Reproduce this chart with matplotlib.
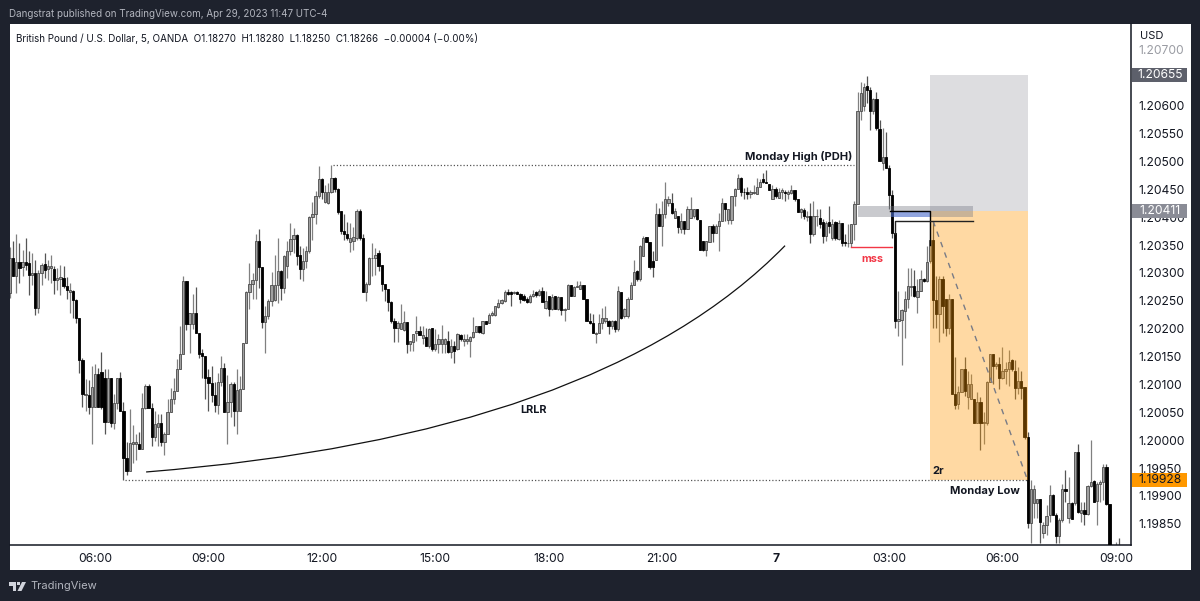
# GBPUSD 5m chart, TradingView look

import numpy as np
import matplotlib
matplotlib.use('Agg')
import matplotlib.pyplot as plt
from matplotlib.patches import Rectangle, PathPatch, Polygon
from matplotlib.path import Path

plt.rcParams['font.family'] = ['Inter', 'DejaVu Sans']

# prices below are in 0.00001 above 1.19000
opens = [
    1264,1327,1294,1319,1311,1319,1318,1297,1300,1238, 1300,1316,1307,1309,1308,1287,1289,1291,1277,1266,
    1267,1251,1220,1144,1081,1081,1059,1059,1118,1123, 1112,1032,1112,1031,1066,1111,1053,968,944,993,
    993,993,984,1058,1098,1058,1005,1024,1031,997, 1011,1051,1074,1089,1127,1154,1285,1208,1208,1229,
    1193,1156,1151,1114,1102,1081,1064,1104,1130,1051, 1069,1101,1053,1053,1092,1174,1266,1281,1288,1358,
    1311,1212,1223,1250,1251,1279,1303,1273,1312,1339, 1361,1368,1333,1308,1321,1339,1400,1405,1438,1469,
    1427,1426,1446,1470,1451,1411,1375,1369,1355,1357, 1363,1411,1363,1265,1281,1326,1326,1335,1314,1280,
    1272,1248,1214,1202,1199,1198,1212,1172,1176,1192, 1196,1184,1186,1169,1201,1163,1172,1172,1172,1178,
    1159,1169,1163,1188,1178,1178,1178,1186,1194,1205, 1193,1214,1211,1224,1225,1239,1246,1250,1266,1266,
    1264,1266,1263,1258,1253,1248,1259,1265,1261,1268, 1238,1258,1235,1258,1235,1256,1234,1235,1278,1259,
    1274,1272,1278,1253,1213,1211,1190,1193,1211,1214, 1214,1205,1214,1200,1266,1223,1223,1254,1278,1303,
    1290,1331,1365,1355,1322,1324,1405,1385,1405,1426, 1426,1398,1402,1378,1393,1378,1399,1402,1414,1395,
    1357,1342,1355,1384,1371,1385,1393,1426,1395,1395, 1438,1451,1470,1446,1446,1441,1443,1442,1455,1468,
    1464,1460,1433,1451,1435,1445,1445,1442,1444,1448, 1432,1409,1413,1401,1403,1369,1402,1398,1391,1367,
    1391,1363,1391,1361,1390,1356,1353,1354,1387,1423, 1590,1600,1635,1628,1590,1612,1558,1498,1508,1488,
    1439,1372,1214,1216,1232,1253,1274,1277,1257,1268, 1290,1286,1321,1359,1252,1226,1290,1253,1202,1253,
    1083,1065,1086,1128,1077,1074,1074,1031,1068,1030, 1030,1105,1154,1133,1137,1111,1125,1128,1143,1125,
    1093,1107,1095,1005,852,887,887,894,833,848, 866,901,866,829,856,913,860,887,887,978,
    869,875,867,918,926,891,922,925,952,885, 800,790,800,
]
highs = [
    1347,1357,1370,1354,1342,1363,1340,1336,1324,1306, 1318,1335,1324,1333,1312,1309,1315,1312,1293,1282,
    1270,1253,1220,1148,1110,1108,1133,1136,1130,1158, 1127,1127,1112,1083,1112,1123,1068,996,1056,1027,
    1011,1015,1084,1101,1101,1066,1053,1047,1047,1015, 1074,1093,1111,1145,1205,1294,1285,1228,1262,1275,
    1193,1163,1151,1127,1133,1104,1120,1151,1139,1117, 1105,1104,1127,1115,1175,1267,1317,1300,1369,1378,
    1311,1240,1253,1301,1333,1363,1306,1333,1357,1390, 1381,1369,1348,1345,1348,1402,1427,1447,1491,1470,
    1458,1461,1494,1472,1452,1411,1405,1391,1389,1383, 1415,1414,1370,1283,1329,1354,1345,1342,1314,1280,
    1272,1250,1220,1214,1244,1231,1212,1178,1190,1223, 1204,1205,1202,1202,1201,1199,1190,1207,1184,1196,
    1181,1178,1193,1190,1190,1190,1187,1221,1205,1205, 1214,1214,1229,1232,1240,1253,1254,1269,1271,1268,
    1268,1268,1264,1262,1256,1262,1269,1268,1271,1274, 1268,1258,1262,1258,1259,1256,1238,1280,1278,1277,
    1286,1286,1278,1253,1229,1226,1194,1226,1238,1240, 1216,1216,1216,1277,1266,1238,1256,1283,1324,1306,
    1351,1366,1365,1355,1339,1426,1417,1429,1463,1438, 1444,1417,1402,1408,1393,1421,1436,1415,1414,1395,
    1357,1357,1385,1387,1387,1408,1435,1426,1414,1438, 1452,1478,1473,1452,1454,1449,1457,1470,1469,1479,
    1485,1460,1458,1455,1452,1452,1448,1448,1457,1448, 1432,1417,1417,1411,1426,1429,1415,1414,1396,1393,
    1420,1396,1393,1395,1390,1369,1387,1387,1429,1625, 1643,1640,1653,1634,1613,1625,1575,1560,1552,1494,
    1449,1372,1268,1235,1268,1309,1309,1306,1290,1306, 1291,1348,1393,1393,1294,1294,1294,1253,1262,1253,
    1149,1098,1128,1149,1125,1119,1074,1086,1077,1050, 1107,1155,1154,1140,1149,1167,1140,1161,1146,1143,
    1131,1125,1095,1015,928,919,895,894,854,884, 919,903,869,860,922,946,934,889,979,994,
    889,889,919,1000,928,925,928,958,958,885, 800,817,825,
]
lows = [
    1255,1294,1264,1282,1294,1306,1261,1279,1225,1228, 1279,1291,1288,1282,1263,1270,1260,1273,1253,1229,
    1220,1211,1121,1059,1053,1047,993,1059,1059,1056, 1011,1032,1023,1020,1056,1053,928,937,944,959,
    964,984,984,1056,1058,990,999,990,990,974, 1011,1050,1065,1089,1127,1154,1198,1157,1199,1193,
    1148,1111,1074,1053,1068,1050,1047,1098,1050,993, 1041,1026,1011,1053,1092,1174,1235,1253,1253,1273,
    1202,1157,1217,1241,1250,1247,1251,1264,1291,1333, 1336,1315,1289,1286,1309,1336,1360,1387,1435,1432,
    1425,1423,1443,1446,1405,1369,1360,1360,1337,1342, 1359,1359,1265,1250,1279,1295,1296,1303,1268,1250,
    1232,1211,1176,1176,1199,1196,1156,1160,1160,1178, 1189,1172,1169,1166,1160,1160,1157,1157,1157,1157,
    1148,1138,1162,1178,1169,1172,1150,1184,1194,1193, 1191,1208,1210,1222,1223,1238,1244,1248,1260,1241,
    1262,1262,1247,1250,1247,1247,1256,1256,1259,1248, 1235,1223,1234,1235,1234,1224,1214,1235,1259,1258,
    1274,1272,1253,1214,1208,1192,1175,1192,1199,1211, 1190,1200,1194,1196,1217,1220,1220,1253,1278,1286,
    1286,1330,1355,1308,1293,1324,1384,1348,1399,1420, 1405,1399,1372,1372,1369,1378,1399,1399,1395,1342,
    1339,1330,1355,1355,1371,1339,1393,1393,1387,1387, 1420,1451,1438,1432,1432,1435,1441,1442,1455,1461,
    1461,1448,1432,1435,1435,1433,1429,1432,1441,1429, 1409,1399,1396,1393,1353,1367,1384,1381,1354,1357,
    1372,1360,1360,1359,1348,1348,1347,1347,1360,1423, 1575,1590,1604,1557,1586,1557,1500,1485,1488,1414,
    1363,1202,1187,1135,1184,1238,1259,1257,1229,1268, 1283,1283,1318,1202,1202,1176,1193,1187,1190,1083,
    1056,1056,1086,1080,1056,1074,1030,1031,982,994, 1028,1104,1101,1128,1092,1110,1101,1098,1125,1074,
    1083,1074,1003,842,815,860,860,815,824,830, 854,865,815,815,854,889,851,859,884,869,
    854,848,866,916,890,847,889,893,884,790, 780,780,780,
]
closes = [
    1327,1294,1319,1309,1319,1315,1297,1300,1238,1300, 1315,1306,1313,1313,1287,1291,1293,1277,1269,1269,
    1251,1220,1144,1083,1083,1059,1095,1118,1059,1059, 1032,1112,1031,1066,1111,1053,968,944,995,996,
    996,984,1058,1098,1058,1005,1029,1031,997,1011, 1051,1074,1089,1127,1154,1285,1208,1228,1229,1193,
    1154,1151,1112,1102,1081,1064,1104,1130,1051,1069, 1101,1053,1090,1092,1174,1266,1281,1288,1358,1311,
    1212,1223,1250,1278,1279,1303,1273,1330,1339,1361, 1368,1331,1308,1321,1339,1400,1405,1438,1469,1446,
    1446,1446,1470,1451,1410,1375,1369,1363,1363,1364, 1411,1363,1265,1281,1327,1327,1333,1312,1280,1272,
    1248,1214,1202,1210,1211,1212,1172,1178,1190,1196, 1189,1189,1169,1199,1163,1172,1181,1181,1181,1159,
    1169,1160,1190,1181,1182,1181,1186,1194,1205,1194, 1214,1209,1224,1229,1240,1247,1252,1266,1263,1263,
    1265,1263,1253,1252,1248,1259,1263,1261,1268,1248, 1250,1236,1257,1235,1256,1234,1235,1278,1259,1274,
    1277,1278,1253,1214,1210,1192,1192,1211,1220,1220, 1205,1214,1200,1268,1220,1235,1254,1278,1302,1290,
    1348,1363,1355,1311,1311,1405,1385,1405,1432,1432, 1408,1411,1383,1393,1378,1414,1414,1414,1397,1342,
    1342,1357,1385,1371,1385,1393,1426,1414,1414,1438, 1451,1470,1446,1445,1441,1446,1445,1455,1464,1463,
    1461,1448,1451,1438,1446,1448,1444,1445,1449,1432, 1409,1414,1403,1403,1369,1403,1403,1387,1366,1390,
    1385,1387,1363,1390,1353,1354,1354,1387,1423,1590, 1622,1634,1628,1590,1612,1560,1500,1508,1488,1439,
    1372,1214,1217,1234,1253,1277,1277,1259,1268,1290, 1286,1319,1359,1252,1226,1290,1241,1202,1253,1083,
    1063,1086,1127,1089,1101,1101,1031,1068,1030,1033, 1105,1154,1133,1137,1111,1125,1128,1141,1128,1093,
    1107,1093,1005,852,913,913,894,854,848,864, 901,866,829,856,912,909,887,859,978,872,
    875,867,918,925,890,922,925,952,885,800, 790,800,795,
]

time_ticks = [27, 63, 99, 135, 171, 207, 243, 279, 315, 351]
time_labels = ['06:00', '09:00', '12:00', '15:00', '18:00', '21:00', '7', '03:00', '06:00', '09:00']
price_ticks = [1.20700, 1.20600, 1.20550, 1.20500, 1.20450, 1.20400, 1.20350, 1.20300, 1.20250,
               1.20200, 1.20150, 1.20100, 1.20050, 1.20000, 1.19950, 1.19900, 1.19850]

short_top = 1.20655
entry = 1.20411
target = 1.19928
pdh = 1.20494
mss = 1.20347

def pr(v):
    return 1.19 + np.asarray(v) / 100000

BG = '#1e222d'
W, H = 1200, 601

fig = plt.figure(figsize=(12, 6.01), dpi=100, facecolor=BG)
fig.add_artist(Rectangle((9.5 / W, 1 - 570 / H), 1181.5 / W, 546 / H, transform=fig.transFigure,
                         facecolor='white', edgecolor='none', zorder=-1))

ax = fig.add_axes([9.5 / W, 1 - 545 / H, 1121.5 / W, 521 / H], facecolor='none')

o, h, l, c = pr(opens), pr(highs), pr(lows), pr(closes)
idx = np.arange(len(o))
up = c >= o

# candles, up ones look grey at this size
ax.vlines(idx[up], l[up], h[up], color='#808080', lw=0.9, zorder=2)
ax.vlines(idx[~up], l[~up], h[~up], color='#555555', lw=0.9, zorder=2)
ax.bar(idx[up], (c - o)[up], bottom=o[up], width=0.72, facecolor='#a0a0a0', edgecolor='#4a4a4a', lw=0.6, zorder=3)
ax.bar(idx[~up], (c - o)[~up], bottom=o[~up], width=0.72, facecolor='#000000', edgecolor='#000000', lw=0.6, zorder=3)

# position boxes
ax.add_patch(Rectangle((292, entry), 31, short_top - entry, facecolor='#787b86', alpha=0.25, lw=0, zorder=4))
ax.add_patch(Rectangle((292, target), 31, entry - target, facecolor='#ff9800', alpha=0.36, lw=0, zorder=4))
ax.plot([293, 323], [1.20393, target], color='#787b86', lw=1, dashes=(4, 4), zorder=5)

# order block / fvg
ax.add_patch(Rectangle((269, 1.20401), 36.8, 0.00020, facecolor='#787b86', alpha=0.4, lw=0, zorder=5))
ax.add_patch(Rectangle((279.6, 1.20401), 12.4, 0.00010, facecolor='#2962ff', alpha=0.35, lw=0, zorder=5))
ax.plot([279.3, 292, 292], [entry, entry, 1.20350], color='black', lw=1, zorder=6)
ax.plot([281, 281, 305.8], [1.20370, 1.20393, 1.20393], color='#222222', lw=1, zorder=6)

# levels
ax.plot([36.5, 323], [target, target], color='#555555', lw=0.9, dashes=(1, 1.6), zorder=5)
ax.plot([102.5, 268], [pdh, pdh], color='#555555', lw=0.9, dashes=(1, 1.6), zorder=5)
ax.plot([267, 280], [mss, mss], color='#f23645', lw=1, zorder=6)

# curve
ax.add_patch(PathPatch(Path([(43.2, pr(943)), (187.2, pr(1008)), (246, pr(1349))],
                            [Path.MOVETO, Path.CURVE3, Path.CURVE3]),
                       facecolor='none', edgecolor='#111111', lw=0.9, zorder=6))

ax.text(166.3, 1.20055, 'LRLR', ha='center', va='center', fontsize=7.8, fontweight='bold', color='#131722', zorder=7)
ax.text(250.3, 1.20509, 'Monday High (PDH)', ha='center', va='center', fontsize=8, fontweight='bold', color='#131722', zorder=7)
ax.text(273.7, 1.20325, 'mss', ha='center', va='center', fontsize=7.8, fontweight='bold', color='#f23645', zorder=7)
ax.text(294.7, 1.19945, '2r', ha='center', va='center', fontsize=8, fontweight='bold', color='#131722', zorder=7)
ax.text(309.4, 1.19908, 'Monday Low', ha='center', va='center', fontsize=8, fontweight='bold', color='#131722', zorder=7)

ax.set_xlim(-0.16, 355.8)
ax.set_ylim(pr(812), pr(1746.6))
ax.set_xticks(time_ticks)
ax.set_xticklabels(time_labels)
ax.get_xticklabels()[6].set_fontweight('bold')
ax.yaxis.tick_right()
ax.set_yticks(price_ticks)
ax.set_yticklabels(['%.5f' % p for p in price_ticks])
ax.tick_params(axis='both', length=0, labelsize=8.7, colors='#131722')
ax.get_yticklabels()[0].set_color('#9a9ca3')
ax.tick_params(axis='y', pad=5.5)
ax.tick_params(axis='x', pad=6)
for s in ['top', 'left']:
    ax.spines[s].set_visible(False)
for s in ['bottom', 'right']:
    ax.spines[s].set_linewidth(1.1)
    ax.spines[s].set_color('#131722')

# price tags on the axis
tr = ax.get_yaxis_transform()
for p, bg, fg in [(short_top, '#5d606b', 'white'), (entry, '#8a8c96', 'white'), (target, '#ff9800', '#131722')]:
    ax.add_patch(Rectangle((1.0008, p - 0.000125), 0.0495, 0.00025, transform=tr, facecolor=bg,
                           edgecolor='none', clip_on=False, zorder=8))
    ax.text(1.0258, p, '%.5f' % p, transform=tr, ha='center', va='center', fontsize=8.7, color=fg, clip_on=False, zorder=9)

# header, footer
fig.text(9 / W, 1 - 14 / H, 'Dangstrat published on TradingView.com, Apr 29, 2023 11:47 UTC-4',
         color='#b2b5be', fontsize=7.05, va='center')
fig.text(16 / W, 1 - 38 / H, 'British Pound / U.S. Dollar, 5, OANDA  O1.18270  H1.18280  L1.18250  C1.18266  \u22120.00004 (\u22120.00%)',
         color='#131722', fontsize=7.1, va='center')
fig.text(1140 / W, 1 - 36 / H, 'USD', color='#131722', fontsize=8, va='center')
fig.text(30 / W, 1 - 586 / H, 'TradingView', color='#b2b5be', fontsize=8, va='center')

# logo
def px(pts):
    return [(x / W, 1 - y / H) for x, y in pts]

logo = '#d1d4dc'
fig.add_artist(Polygon(px([(9, 582), (16, 582), (16, 591), (12.5, 591), (12.5, 585.5), (9, 585.5)]),
                       transform=fig.transFigure, facecolor=logo, edgecolor='none'))
fig.add_artist(Polygon(px([(22, 582), (26, 582), (21.5, 591), (17.5, 591)]),
                       transform=fig.transFigure, facecolor=logo, edgecolor='none'))
fig.add_artist(Polygon(px([(17, 582), (19.6, 582), (19.6, 585), (17, 585)]),
                       transform=fig.transFigure, facecolor=logo, edgecolor='none'))

fig.savefig('out.png', dpi=100, facecolor=BG)
